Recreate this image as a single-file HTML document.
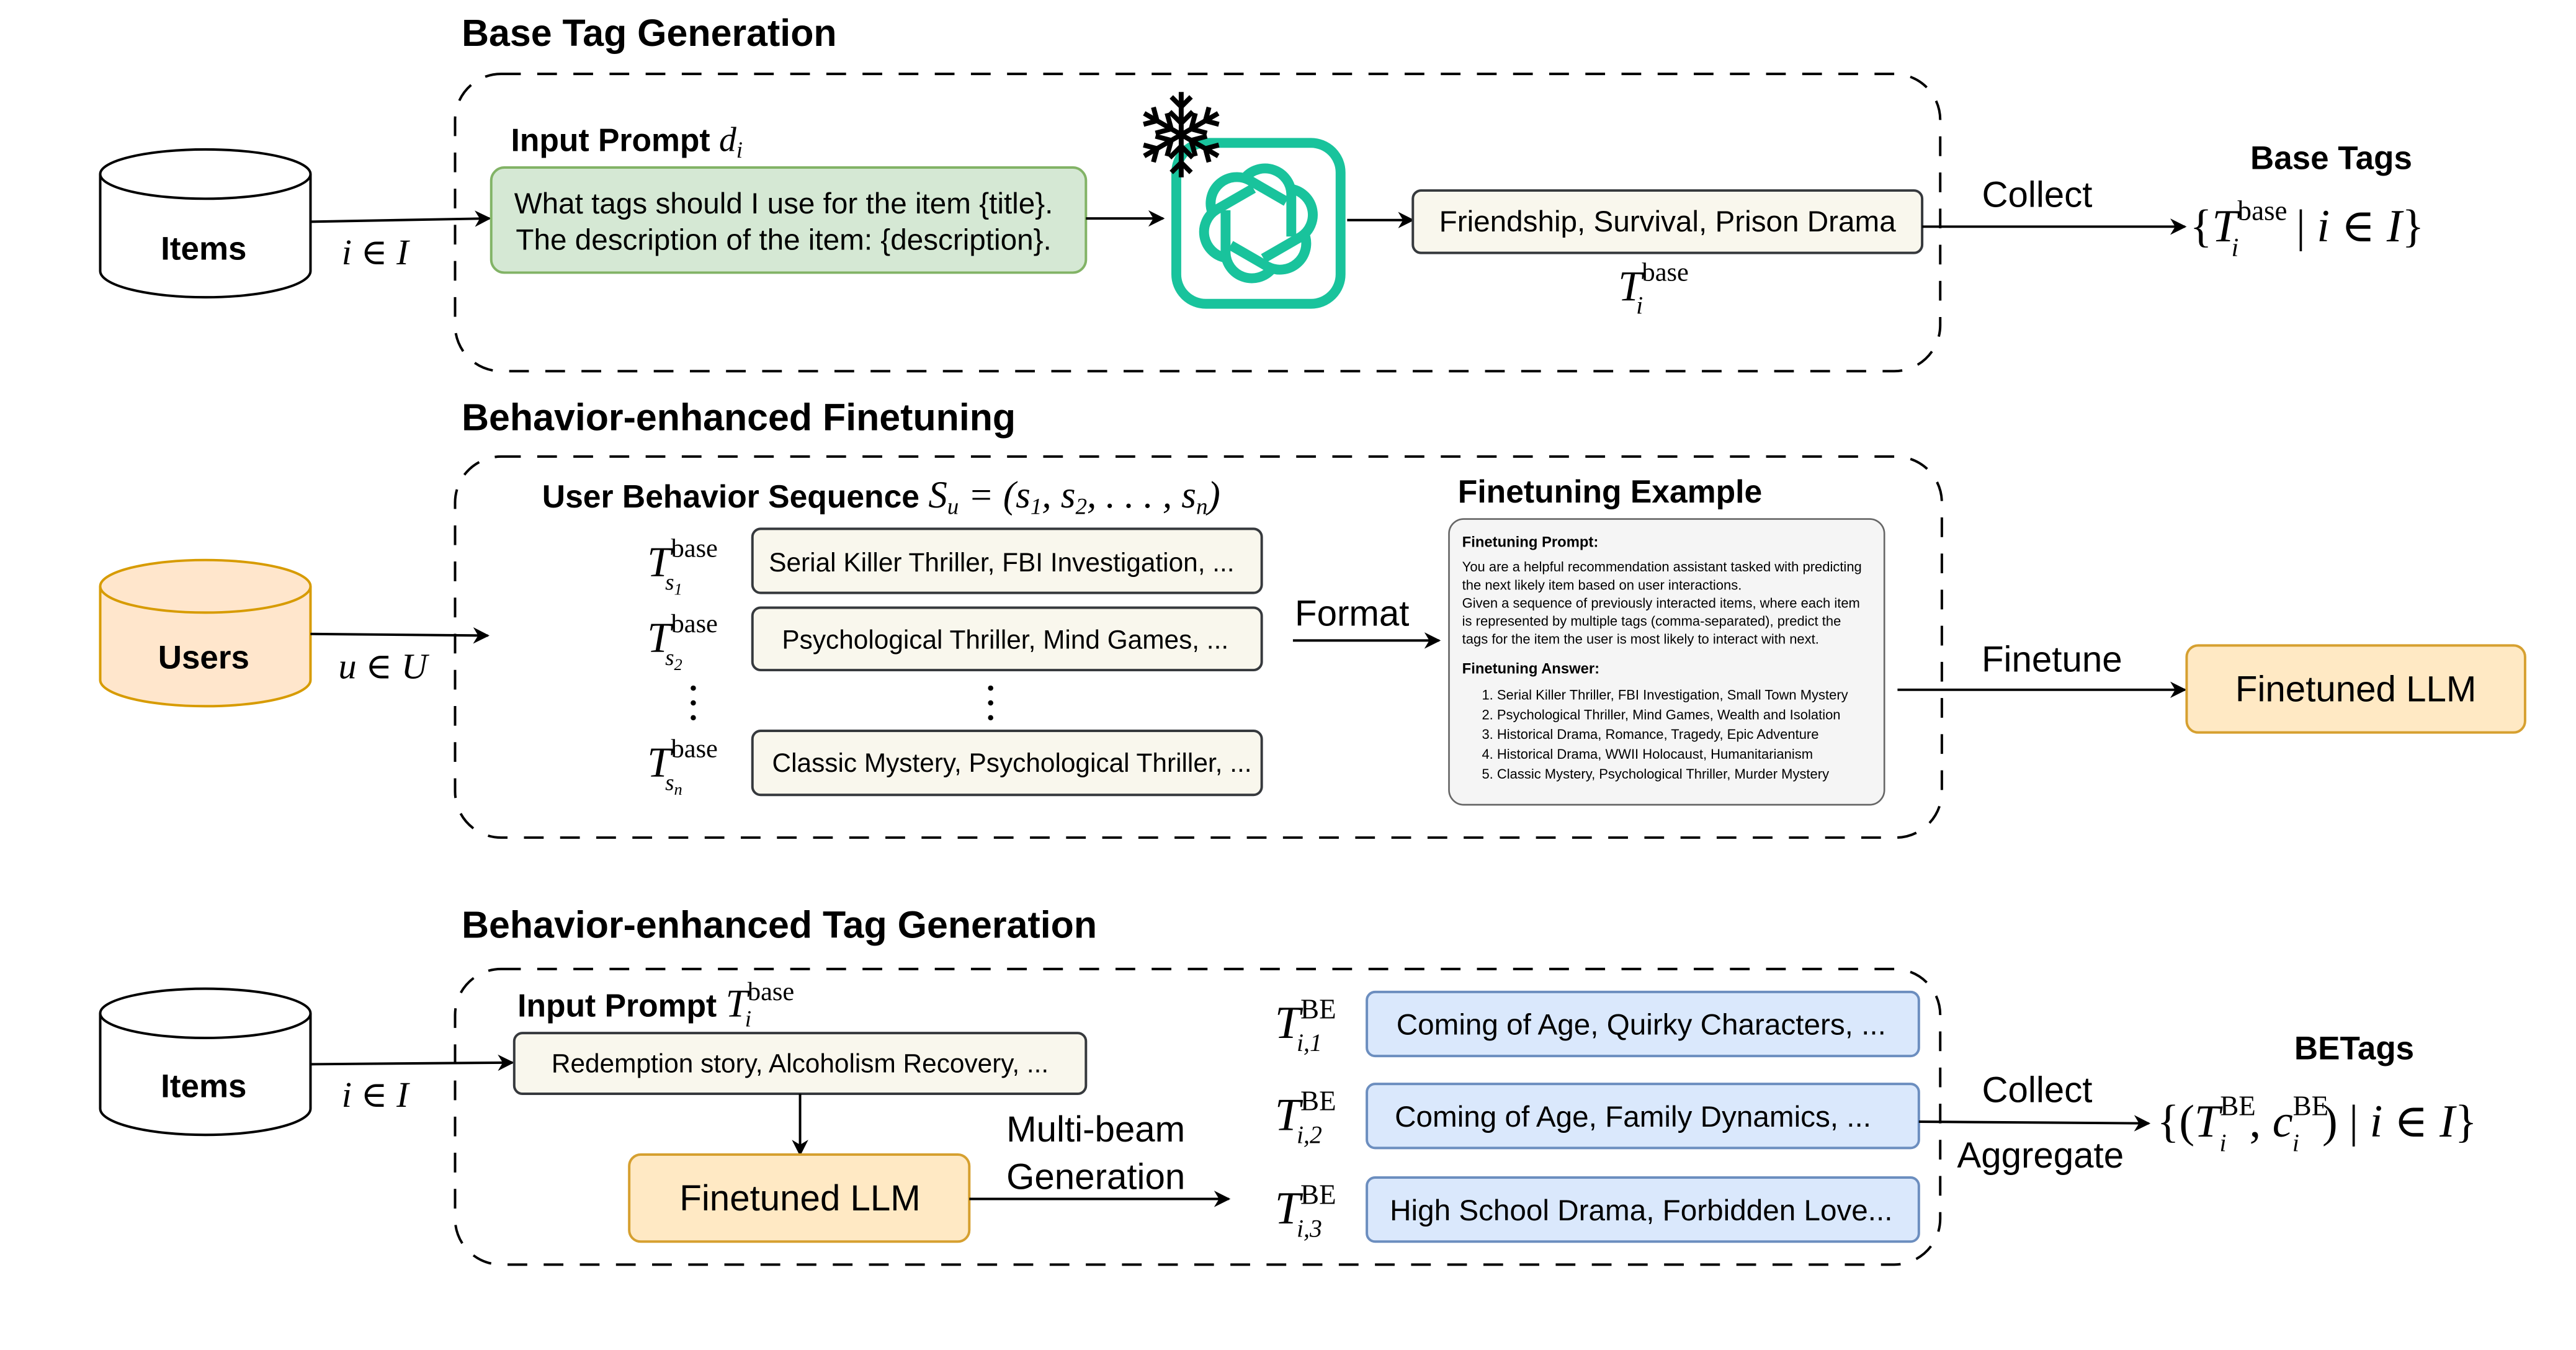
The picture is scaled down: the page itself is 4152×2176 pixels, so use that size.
<!DOCTYPE html>
<html><head><meta charset="utf-8"><style>
html,body{margin:0;padding:0;background:#fff;}
svg{display:block;}
.s{font-family:"Liberation Sans",sans-serif;}
.m{font-family:"Liberation Serif","DejaVu Serif",serif;font-style:italic;}
.r{font-family:"Liberation Serif","DejaVu Serif",serif;}
</style></head><body>
<svg width="4152" height="2176" viewBox="0 0 1568 822" preserveAspectRatio="none" xmlns="http://www.w3.org/2000/svg">
<defs>
<marker id="a" markerWidth="10" markerHeight="10" refX="9" refY="5" orient="auto" markerUnits="userSpaceOnUse">
<path d="M0,0 L10,5 L0,10 L3,5 Z" fill="#000"/></marker>
</defs>
<rect width="1568" height="822" fill="#fff"/>
<g class="s" fill="#000">
<!-- Section 1 -->
<text x="281" y="28" font-size="23" font-weight="bold">Base Tag Generation</text>
<rect x="277" y="45" width="904" height="181" rx="28" fill="none" stroke="#000" stroke-width="1.5" stroke-dasharray="12,10"/>
<path d="M61,106 L61,165 A64,16 0 0 0 189,165 L189,106" fill="#fff" stroke="#000" stroke-width="1.5"/>
<ellipse cx="125" cy="106" rx="64" ry="15" fill="#fff" stroke="#000" stroke-width="1.5"/>
<text x="124" y="158" font-size="20" font-weight="bold" text-anchor="middle">Items</text>
<line x1="189" y1="135" x2="298" y2="133" stroke="#000" stroke-width="1.5" marker-end="url(#a)"/>
<text x="208" y="161" font-size="22" class="m">i ∈ <tspan class="m">I</tspan></text>
<text x="311" y="92" font-size="19.5" font-weight="bold">Input Prompt <tspan class="m" font-weight="normal" font-size="21">d<tspan font-size="14" dy="4">i</tspan></tspan></text>
<rect x="299" y="102" width="362" height="64" rx="8" fill="#d5e8d4" stroke="#82b366" stroke-width="1.5"/>
<text x="477" y="130" font-size="18" text-anchor="middle">What tags should I use for the item {title}.</text>
<text x="477" y="152" font-size="18" text-anchor="middle">The description of the item: {description}.</text>
<line x1="661" y1="133" x2="708" y2="133" stroke="#000" stroke-width="1.5" marker-end="url(#a)"/>
<rect x="716" y="87" width="100" height="98" rx="18" fill="#fff" stroke="#19c39c" stroke-width="6"/>
<g transform="translate(766,136)" fill="none" stroke="#19c39c" stroke-width="6">
<g id="pet"><path d="M-8,-28 A16,16 0 0 1 20,-18 L20,8"/></g>
<use href="#pet" transform="rotate(60)"/><use href="#pet" transform="rotate(120)"/><use href="#pet" transform="rotate(180)"/><use href="#pet" transform="rotate(240)"/><use href="#pet" transform="rotate(300)"/>
</g>
<g transform="translate(719,82)" stroke="#000" stroke-width="3" fill="none">
<g id="br"><line x1="0" y1="0" x2="0" y2="-26"/><path d="M-6,-23 L0,-17 L6,-23 M-7,-14 L0,-7 L7,-14"/></g>
<use href="#br" transform="rotate(60)"/><use href="#br" transform="rotate(120)"/><use href="#br" transform="rotate(180)"/><use href="#br" transform="rotate(240)"/><use href="#br" transform="rotate(300)"/>
</g>
<line x1="820" y1="134" x2="860" y2="134" stroke="#000" stroke-width="1.5" marker-end="url(#a)"/>
<rect x="860" y="116" width="310" height="38" rx="5" fill="#f9f7ed" stroke="#36393d" stroke-width="1.5"/>
<text x="1015" y="141" font-size="18" text-anchor="middle">Friendship, Survival, Prison Drama</text>
<text x="985" y="183" font-size="26" class="m">T<tspan class="r" font-style="normal" font-size="16" dy="-12">base</tspan><tspan font-size="15" dx="-32" dy="20">i</tspan></text>
<line x1="1170" y1="138" x2="1330" y2="138" stroke="#000" stroke-width="1.5" marker-end="url(#a)"/>
<text x="1240" y="126" font-size="22" text-anchor="middle">Collect</text>
<text x="1419" y="103" font-size="20" font-weight="bold" text-anchor="middle">Base Tags</text>
<text x="1333" y="147" font-size="28" class="r">{<tspan class="m">T</tspan><tspan font-size="17" dy="-13">base</tspan><tspan class="m" font-size="16" dx="-34" dy="22">i</tspan><tspan dx="28" dy="-9"> | </tspan><tspan class="m">i</tspan> ∈ <tspan class="m">I</tspan>}</text>

<!-- Section 2 -->
<text x="281" y="262" font-size="23" font-weight="bold">Behavior-enhanced Finetuning</text>
<rect x="277" y="278" width="905" height="232" rx="28" fill="none" stroke="#000" stroke-width="1.5" stroke-dasharray="12,10"/>
<path d="M61,357 L61,414 A64,16 0 0 0 189,414 L189,357" fill="#ffe6cc" stroke="#d79b00" stroke-width="1.5"/>
<ellipse cx="125" cy="357" rx="64" ry="16" fill="#ffe6cc" stroke="#d79b00" stroke-width="1.5"/>
<text x="124" y="407" font-size="20" font-weight="bold" text-anchor="middle">Users</text>
<line x1="189" y1="386" x2="297" y2="387" stroke="#000" stroke-width="1.5" marker-end="url(#a)"/>
<text x="206" y="413" font-size="22" class="m">u ∈ U</text>
<text x="330" y="309" font-size="19.5" font-weight="bold">User Behavior Sequence <tspan class="m" font-weight="normal" font-size="23">S<tspan font-size="14" dy="4">u</tspan><tspan dy="-4" class="r"> = (</tspan>s<tspan font-size="14" dy="4">1</tspan><tspan dy="-4">, s</tspan><tspan font-size="14" dy="4">2</tspan><tspan dy="-4">, . . . , s</tspan><tspan font-size="14" dy="4">n</tspan><tspan dy="-4" class="r">)</tspan></tspan></text>
<rect x="458" y="322" width="310" height="39" rx="5" fill="#f9f7ed" stroke="#36393d" stroke-width="1.5"/>
<text x="468" y="348" font-size="16">Serial Killer Thriller, FBI Investigation, ...</text>
<rect x="458" y="370" width="310" height="38" rx="5" fill="#f9f7ed" stroke="#36393d" stroke-width="1.5"/>
<text x="476" y="395" font-size="16">Psychological Thriller, Mind Games, ...</text>
<rect x="458" y="445" width="310" height="39" rx="5" fill="#f9f7ed" stroke="#36393d" stroke-width="1.5"/>
<text x="470" y="470" font-size="16">Classic Mystery, Psychological Thriller, ...</text>
<text x="394" y="351" font-size="26" class="m">T<tspan class="r" font-style="normal" font-size="16" dy="-12">base</tspan><tspan font-size="14" dx="-32" dy="20">s<tspan font-size="10" dy="3">1</tspan></tspan></text>
<text x="394" y="397" font-size="26" class="m">T<tspan class="r" font-style="normal" font-size="16" dy="-12">base</tspan><tspan font-size="14" dx="-32" dy="20">s<tspan font-size="10" dy="3">2</tspan></tspan></text>
<text x="394" y="473" font-size="26" class="m">T<tspan class="r" font-style="normal" font-size="16" dy="-12">base</tspan><tspan font-size="14" dx="-32" dy="20">s<tspan font-size="10" dy="3">n</tspan></tspan></text>
<g fill="#000"><circle cx="422" cy="419" r="1.6"/><circle cx="422" cy="428" r="1.6"/><circle cx="422" cy="437" r="1.6"/>
<circle cx="603" cy="419" r="1.6"/><circle cx="603" cy="428" r="1.6"/><circle cx="603" cy="437" r="1.6"/></g>
<text x="823" y="381" font-size="22" text-anchor="middle">Format</text>
<line x1="787" y1="390" x2="876" y2="390" stroke="#000" stroke-width="1.5" marker-end="url(#a)"/>
<text x="980" y="306" font-size="19.5" font-weight="bold" text-anchor="middle">Finetuning Example</text>
<rect x="882" y="316" width="265" height="174" rx="9" fill="#f5f5f5" stroke="#666" stroke-width="1"/>
<g font-size="8.3">
<text x="890" y="333" font-weight="bold" font-size="9">Finetuning Prompt:</text>
<text x="890" y="348">You are a helpful recommendation assistant tasked with predicting</text>
<text x="890" y="359">the next likely item based on user interactions.</text>
<text x="890" y="370">Given a sequence of previously interacted items, where each item</text>
<text x="890" y="381">is represented by multiple tags (comma-separated), predict the</text>
<text x="890" y="392">tags for the item the user is most likely to interact with next.</text>
<text x="890" y="410" font-weight="bold" font-size="9">Finetuning Answer:</text>
<text x="902" y="426">1. Serial Killer Thriller, FBI Investigation, Small Town Mystery</text>
<text x="902" y="438">2. Psychological Thriller, Mind Games, Wealth and Isolation</text>
<text x="902" y="450">3. Historical Drama, Romance, Tragedy, Epic Adventure</text>
<text x="902" y="462">4. Historical Drama, WWII Holocaust, Humanitarianism</text>
<text x="902" y="474">5. Classic Mystery, Psychological Thriller, Murder Mystery</text>
</g>
<line x1="1155" y1="420" x2="1330" y2="420" stroke="#000" stroke-width="1.5" marker-end="url(#a)"/>
<text x="1249" y="409" font-size="22" text-anchor="middle">Finetune</text>
<rect x="1331" y="393" width="206" height="53" rx="7" fill="#ffe9c4" stroke="#d6a030" stroke-width="1.5"/>
<text x="1434" y="427" font-size="22" text-anchor="middle">Finetuned LLM</text>

<!-- Section 3 -->
<text x="281" y="571" font-size="23" font-weight="bold">Behavior-enhanced Tag Generation</text>
<rect x="277" y="590" width="904" height="180" rx="28" fill="none" stroke="#000" stroke-width="1.5" stroke-dasharray="12,10"/>
<path d="M61,617 L61,675 A64,16 0 0 0 189,675 L189,617" fill="#fff" stroke="#000" stroke-width="1.5"/>
<ellipse cx="125" cy="617" rx="64" ry="15" fill="#fff" stroke="#000" stroke-width="1.5"/>
<text x="124" y="668" font-size="20" font-weight="bold" text-anchor="middle">Items</text>
<line x1="189" y1="648" x2="312" y2="647" stroke="#000" stroke-width="1.5" marker-end="url(#a)"/>
<text x="208" y="674" font-size="22" class="m">i ∈ I</text>
<text x="315" y="619" font-size="19.5" font-weight="bold">Input Prompt <tspan class="m" font-weight="normal" font-size="24">T</tspan><tspan class="r" font-weight="normal" font-size="16" dy="-10">base</tspan><tspan class="m" font-weight="normal" font-size="14" dx="-30" dy="16">i</tspan></text>
<rect x="313" y="629" width="348" height="37" rx="5" fill="#f9f7ed" stroke="#36393d" stroke-width="1.5"/>
<text x="487" y="653" font-size="16" text-anchor="middle">Redemption story, Alcoholism Recovery, ...</text>
<line x1="487" y1="666" x2="487" y2="703" stroke="#000" stroke-width="1.5" marker-end="url(#a)"/>
<rect x="383" y="703" width="207" height="53" rx="7" fill="#ffe9c4" stroke="#d6a030" stroke-width="1.5"/>
<text x="487" y="737" font-size="22" text-anchor="middle">Finetuned LLM</text>
<line x1="590" y1="730" x2="748" y2="730" stroke="#000" stroke-width="1.5" marker-end="url(#a)"/>
<text x="667" y="695" font-size="22" text-anchor="middle">Multi-beam</text>
<text x="667" y="724" font-size="22" text-anchor="middle">Generation</text>
<rect x="832" y="604" width="336" height="39" rx="5" fill="#dae8fc" stroke="#6c8ebf" stroke-width="1.5"/>
<text x="999" y="630" font-size="18" text-anchor="middle">Coming of Age, Quirky Characters, ...</text>
<rect x="832" y="660" width="336" height="39" rx="5" fill="#dae8fc" stroke="#6c8ebf" stroke-width="1.5"/>
<text x="994" y="686" font-size="18" text-anchor="middle">Coming of Age, Family Dynamics, ...</text>
<rect x="832" y="717" width="336" height="39" rx="5" fill="#dae8fc" stroke="#6c8ebf" stroke-width="1.5"/>
<text x="999" y="743" font-size="18" text-anchor="middle">High School Drama, Forbidden Love...</text>
<text x="776" y="632" font-size="28" class="m">T<tspan class="r" font-style="normal" font-size="17" dy="-12">BE</tspan><tspan font-size="15" dx="-24" dy="20">i,1</tspan></text>
<text x="776" y="688" font-size="28" class="m">T<tspan class="r" font-style="normal" font-size="17" dy="-12">BE</tspan><tspan font-size="15" dx="-24" dy="20">i,2</tspan></text>
<text x="776" y="745" font-size="28" class="m">T<tspan class="r" font-style="normal" font-size="17" dy="-12">BE</tspan><tspan font-size="15" dx="-24" dy="20">i,3</tspan></text>
<line x1="1168" y1="683" x2="1308" y2="684" stroke="#000" stroke-width="1.5" marker-end="url(#a)"/>
<text x="1240" y="671" font-size="22" text-anchor="middle">Collect</text>
<text x="1242" y="711" font-size="22" text-anchor="middle">Aggregate</text>
<text x="1433" y="645" font-size="20" font-weight="bold" text-anchor="middle">BETags</text>
<text x="1313" y="692" font-size="28" class="r">{(<tspan class="m">T</tspan><tspan font-size="17" dy="-13">BE</tspan><tspan class="m" font-size="15" dx="-22" dy="22">i</tspan><tspan dx="14" dy="-9">, </tspan><tspan class="m">c</tspan><tspan font-size="17" dy="-13">BE</tspan><tspan class="m" font-size="15" dx="-22" dy="22">i</tspan><tspan dx="14" dy="-9">) | </tspan><tspan class="m">i</tspan> ∈ <tspan class="m">I</tspan>}</text>
</g>
</svg>
</body></html>
